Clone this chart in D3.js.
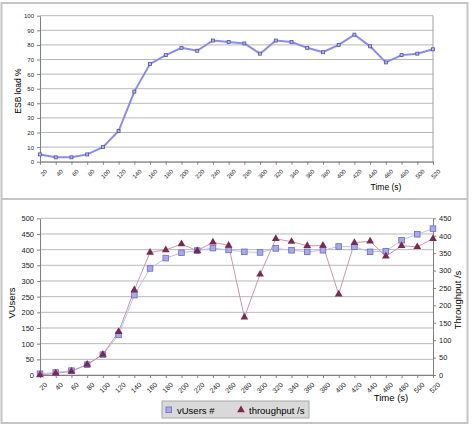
<!DOCTYPE html>
<html>
  <head>
    <meta charset="utf-8">
    <title>ESB load / vUsers</title>
    <script src="https://d3js.org/d3.v7.min.js"></script>
    <style>
      body { margin: 0; background: #fff; }
      svg { font-family: "Liberation Sans", Arial, sans-serif; }
      .axis path, .axis line { stroke: #808080; }
      .axis text { fill: #222; }
    </style>
  </head>
  <body>
    <div class="chart"></div>
    <script>
      // data
      var times = [20, 40, 60, 80, 100, 120, 140, 160, 180, 200, 220, 240, 260,
                   280, 300, 320, 340, 360, 380, 400, 420, 440, 460, 480, 500, 520];
      var esbLoad = [5, 3, 3, 5, 10, 21, 48, 67, 73, 78, 76, 83, 82,
                     81, 74, 83, 82, 78, 75, 80, 87, 79, 68, 73, 74, 77];
      var vUsers = [4, 8, 14, 33, 65, 128, 255, 340, 373, 390, 397, 405, 399,
                    393, 391, 404, 398, 393, 398, 410, 409, 393, 395, 430, 449, 467];
      var throughput = [0, 5, 10, 30, 59, 124, 244, 352, 359, 376, 357, 381, 372,
                        166, 289, 391, 383, 371, 372, 232, 380, 384, 341, 371, 368, 391];
      var esbTicks = d3.range(0, 101, 10);
      var userTicks = d3.range(0, 501, 50);
      var tputTicks = d3.range(0, 451, 50);

      var W = 474, H = 427;
      var svg = d3.select(".chart").append("svg")
        .attr("width", W)
        .attr("height", H);

      // outer frames
      svg.append("rect")
        .attr("x", 1.5).attr("y", 3).attr("width", 466).attr("height", 420)
        .attr("fill", "none").attr("stroke", "#c4c4c4").attr("stroke-width", 2);
      svg.append("line")
        .attr("x1", 1.5).attr("x2", 467.5).attr("y1", 199).attr("y2", 199)
        .attr("stroke", "#c4c4c4").attr("stroke-width", 2);

      var x = d3.scalePoint().domain(times).range([40, 433]);

      function xAxis(g, y0, size) {
        g.attr("class", "axis")
          .attr("transform", "translate(0," + y0 + ")")
          .call(d3.axisBottom(x).tickSize(3).tickSizeOuter(0))
          .selectAll("text")
            .attr("font-size", size)
            .attr("text-anchor", "end")
            .attr("dx", 0).attr("dy", 0)
            .attr("transform", "translate(3,6) rotate(-45)");
      }

      function grid(g, scale, ticks) {
        g.selectAll("line")
          .data(ticks)
          .enter().append("line")
            .attr("x1", 40).attr("x2", 433)
            .attr("y1", function(d) { return scale(d); })
            .attr("y2", function(d) { return scale(d); })
            .attr("stroke", "#b8b8b8");
      }

      /*
       * top chart: ESB load %
       */
      var yEsb = d3.scaleLinear().domain([0, 100]).range([161.7, 15.7]);
      var topChart = svg.append("g");
      grid(topChart.append("g"), yEsb, esbTicks);
      topChart.append("line")
        .attr("x1", 433).attr("x2", 433).attr("y1", 15.7).attr("y2", 161.7)
        .attr("stroke", "#a0a0a0");

      topChart.append("g")
        .attr("class", "axis")
        .attr("transform", "translate(40,0)")
        .call(d3.axisLeft(yEsb).tickValues(esbTicks).tickSize(3).tickSizeOuter(0))
        .selectAll("text").attr("font-size", 6);
      topChart.append("g").call(xAxis, 161.7, 6);

      topChart.append("path")
        .datum(esbLoad)
        .attr("fill", "none")
        .attr("stroke", "#8a8af0")
        .attr("stroke-width", 2)
        .attr("d", d3.line()
          .x(function(d, i) { return x(times[i]); })
          .y(function(d) { return yEsb(d); }));

      topChart.selectAll(".esb")
        .data(esbLoad)
        .enter().append("rect")
          .attr("class", "esb")
          .attr("x", function(d, i) { return x(times[i]) - 1.5; })
          .attr("y", function(d) { return yEsb(d) - 1.5; })
          .attr("width", 3).attr("height", 3)
          .attr("fill", "#b8b8f8").attr("stroke", "#50509a").attr("stroke-width", 0.8);

      topChart.append("text")
        .attr("transform", "translate(21,91) rotate(-90)")
        .attr("text-anchor", "middle")
        .attr("font-size", 8.5)
        .text("ESB load %");
      topChart.append("text")
        .attr("x", 386).attr("y", 190)
        .attr("text-anchor", "middle")
        .attr("font-size", 8.5)
        .text("Time (s)");

      /*
       * bottom chart: vUsers + throughput
       */
      var yUsers = d3.scaleLinear().domain([0, 500]).range([375, 218.3]);
      var yTput = d3.scaleLinear().domain([0, 450]).range([375, 218.3]);
      var bot = svg.append("g");
      grid(bot.append("g"), yUsers, userTicks);

      bot.append("g")
        .attr("class", "axis")
        .attr("transform", "translate(40,0)")
        .call(d3.axisLeft(yUsers).tickValues(userTicks).tickSize(3).tickSizeOuter(0))
        .selectAll("text").attr("font-size", 7.5);
      bot.append("g")
        .attr("class", "axis")
        .attr("transform", "translate(433,0)")
        .call(d3.axisRight(yTput).tickValues(tputTicks).tickSize(3).tickSizeOuter(0))
        .selectAll("text").attr("font-size", 7.5);
      bot.append("g").call(xAxis, 375, 7);

      var lineUsers = d3.line()
        .x(function(d, i) { return x(times[i]); })
        .y(function(d) { return yUsers(d); });
      var lineTput = d3.line()
        .x(function(d, i) { return x(times[i]); })
        .y(function(d) { return yTput(d); });

      bot.append("path")
        .datum(vUsers)
        .attr("fill", "none")
        .attr("stroke", "#b8c2f0")
        .attr("stroke-width", 1)
        .attr("d", lineUsers);
      bot.append("path")
        .datum(throughput)
        .attr("fill", "none")
        .attr("stroke", "#c896b0")
        .attr("stroke-width", 1)
        .attr("d", lineTput);

      bot.selectAll(".usr")
        .data(vUsers)
        .enter().append("rect")
          .attr("class", "usr")
          .attr("x", function(d, i) { return x(times[i]) - 2.8; })
          .attr("y", function(d) { return yUsers(d) - 2.8; })
          .attr("width", 5.6).attr("height", 5.6)
          .attr("fill", "#a8a8ea").attr("stroke", "#6a6ac8").attr("stroke-width", 0.8);

      var tri = d3.symbol().type(d3.symbolTriangle).size(26);
      bot.selectAll(".tput")
        .data(throughput)
        .enter().append("path")
          .attr("class", "tput")
          .attr("d", tri)
          .attr("transform", function(d, i) {
            return "translate(" + x(times[i]) + "," + yTput(d) + ")";
          })
          .attr("fill", "#7a2a52");

      bot.append("text")
        .attr("transform", "translate(15,303) rotate(-90)")
        .attr("text-anchor", "middle")
        .attr("font-size", 9.5)
        .text("VUsers");
      bot.append("text")
        .attr("transform", "translate(461,300) rotate(-90)")
        .attr("text-anchor", "middle")
        .attr("font-size", 9.5)
        .text("Throughput /s");
      bot.append("text")
        .attr("x", 391).attr("y", 401)
        .attr("text-anchor", "middle")
        .attr("font-size", 9.5)
        .text("Time (s)");

      // legend
      var legend = bot.append("g").attr("transform", "translate(162,401)");
      legend.append("rect")
        .attr("width", 147).attr("height", 17)
        .attr("fill", "#d9d9d9").attr("stroke", "#a8a8a8");
      legend.append("rect")
        .attr("x", 4).attr("y", 6).attr("width", 5.6).attr("height", 5.6)
        .attr("fill", "#a8a8ea").attr("stroke", "#6a6ac8").attr("stroke-width", 0.8);
      legend.append("text")
        .attr("x", 15).attr("y", 12.5).attr("font-size", 9.5)
        .text("vUsers #");
      legend.append("path")
        .attr("d", tri)
        .attr("transform", "translate(79,9)")
        .attr("fill", "#7a2a52");
      legend.append("text")
        .attr("x", 87).attr("y", 12.5).attr("font-size", 9.5)
        .text("throughput /s");
    </script>
  </body>
</html>
